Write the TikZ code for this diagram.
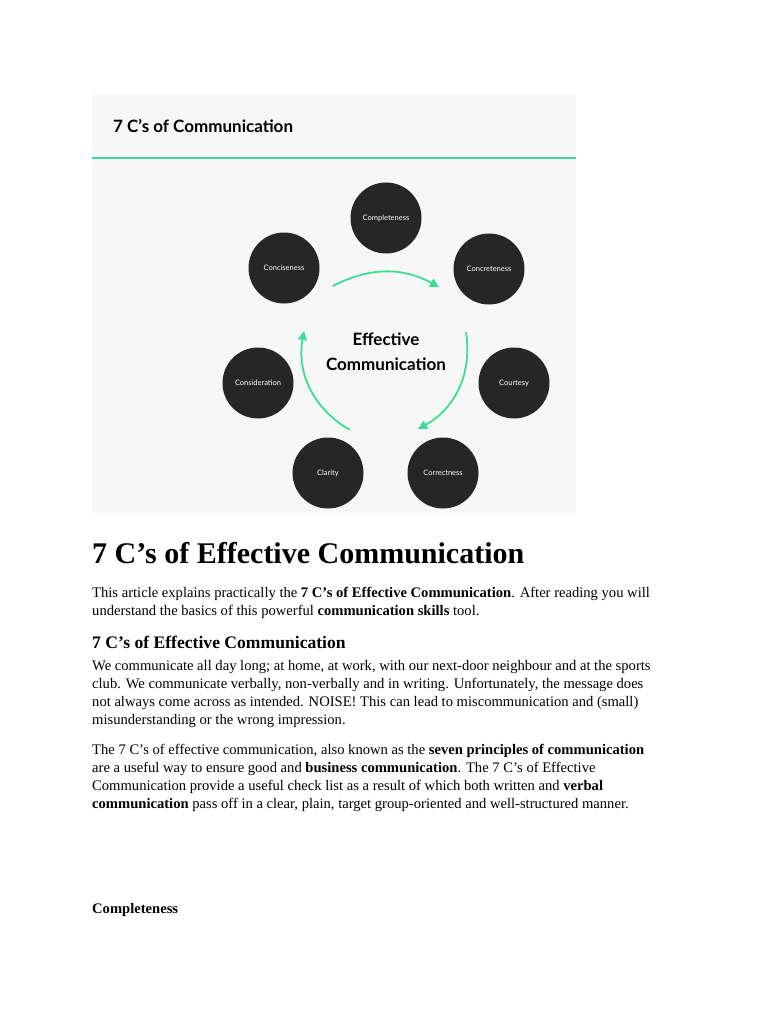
\documentclass[tikz,border=0pt]{standalone}
\usepackage{fontspec}
\setmainfont{Liberation Serif}
\newfontfamily\dsans{Lato}
\usetikzlibrary{arrows.meta}
\definecolor{panel}{HTML}{F7F7F7}
\definecolor{mint}{HTML}{3DDC97}
\definecolor{dark}{HTML}{262626}
\begin{document}
\begin{tikzpicture}[x=1pt,y=-1pt,
  cnode/.style={circle,fill=dark,minimum size=71pt,inner sep=0pt,text=white,font=\dsans\fontsize{7.5}{8}\selectfont},
  arr/.style={mint,line width=1.8pt,-{Triangle[length=9pt,width=9pt]}},
  tl/.style={anchor=base west,inner sep=0pt,font=\fontsize{14.6}{16}\selectfont}]
\useasboundingbox[fill=white] (0,0) rectangle (768,1024);
\fill[panel] (92,94) rectangle (576,513);
\draw[mint,line width=1.4pt] (92,158) -- (576,158);
\node[anchor=base west,inner sep=0pt,font=\dsans\bfseries\fontsize{17}{19}\selectfont] (pt) at (113,133) {7 C’s of Communication};
\node[cnode] (c1) at (386,218) {Completeness};
\node[cnode] (c2) at (489,269) {Concreteness};
\node[cnode] (c3) at (514,383) {Courtesy};
\node[cnode] (c4) at (443,473) {Correctness};
\node[cnode] (c5) at (328,473) {Clarity};
\node[cnode] (c6) at (258,383) {Consideration};
\node[cnode] (c7) at (284,268) {Conciseness};
\node[align=center,font=\dsans\bfseries\fontsize{17}{25}\selectfont] (ec) at (386,352) {Effective\\Communication};
\coordinate (a1) at (333,286); \coordinate (a2) at (439,287);
\coordinate (b1) at (466,332); \coordinate (b2) at (418,429);
\coordinate (d1) at (350,430); \coordinate (d2) at (304,331);
\draw[arr] (a1) to[bend left=28] (a2);
\draw[arr] (b1) to[bend left=35] (b2);
\draw[arr] (d1) to[bend left=35] (d2);
\node[anchor=base west,inner sep=0pt,font=\bfseries\fontsize{30}{32}\selectfont] (h1) at (92,563) {7 C’s of Effective Communication};
\node[tl] (p1) at (92,597) {This article explains practically the \textbf{7 C’s of Effective Communication}. After reading you will};
\node[tl] (p2) at (92,615) {understand the basics of this powerful \textbf{communication skills} tool.};
\node[anchor=base west,inner sep=0pt,font=\bfseries\fontsize{17.6}{19}\selectfont] (h2) at (92,648) {7 C’s of Effective Communication};
\node[tl] (q1) at (92,670) {We communicate all day long; at home, at work, with our next-door neighbour and at the sports};
\node[tl] (q2) at (92,688) {club. We communicate verbally, non-verbally and in writing. Unfortunately, the message does};
\node[tl] (q3) at (92,706) {not always come across as intended. NOISE! This can lead to miscommunication and (small)};
\node[tl] (q4) at (92,724) {misunderstanding or the wrong impression.};
\node[tl] (r1) at (92,754) {The 7 C’s of effective communication, also known as the \textbf{seven principles of communication}};
\node[tl] (r2) at (92,772) {are a useful way to ensure good and \textbf{business communication}. The 7 C’s of Effective};
\node[tl] (r3) at (92,790) {Communication provide a useful check list as a result of which both written and \textbf{verbal}};
\node[tl] (r4) at (92,808) {\textbf{communication} pass off in a clear, plain, target group-oriented and well-structured manner.};
\node[tl,font=\bfseries\fontsize{14.6}{16}\selectfont] (s1) at (92,913) {Completeness};
\end{tikzpicture}
\end{document}
